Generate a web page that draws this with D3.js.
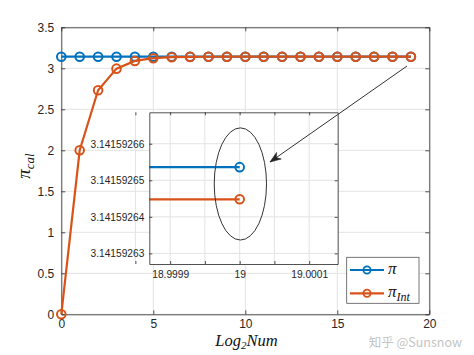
<!DOCTYPE html>
<html><head><meta charset="utf-8">
<script src="https://cdn.jsdelivr.net/npm/d3@7"></script>
<style>body{margin:0;background:#fff}svg{display:block}</style>
</head><body>
<svg id="c" width="474" height="355"></svg>
<script>
// ---- data ----
const xs = [0,1,2,3,4,5,6,7,8,9,10,11,12,13,14,15,16,17,18,19];
const piVals = xs.map(() => 3.14159265359);
const piInt = [0, 2, 2.7320508, 2.9957090, 3.0898195, 3.1232527, 3.1351027, 3.1392967,
  3.1407807, 3.1413056, 3.1414912, 3.1415568, 3.1415800, 3.1415882, 3.1415911,
  3.14159209, 3.14159245, 3.14159258, 3.141592629, 3.1415926448];
const xTicks = [0,5,10,15,20];
const yTicks = [0,0.5,1,1.5,2,2.5,3,3.5];
const insetXTicks = [18.9999, 19, 19.0001];
const insetXGrid = [18.99985, 18.9999, 18.99995, 19, 19.00005, 19.0001];
const insetYTicks = [3.14159263, 3.14159264, 3.14159265, 3.14159266];
const insetYLabels = ["3.14159263","3.14159264","3.14159265","3.14159266"];
const seriesNames = ["π", "π"];
const colors = ["#0072BD", "#D95319"];

const svg = d3.select("#c");
const x = d3.scaleLinear().domain([0,20]).range([61.3,429.3]);
const y = d3.scaleLinear().domain([0,3.5]).range([314.3,27.3]);
const axisCol = "#262626";
const gridCol = "#e3e3e3";
const tickFont = "'Liberation Sans', Arial, sans-serif";

// main grid
const g = svg.append("g");
g.selectAll(".gx").data(xTicks).join("line").attr("x1",d=>x(d)).attr("x2",d=>x(d))
  .attr("y1",y(0)).attr("y2",y(3.5)).attr("stroke",gridCol).attr("stroke-width",1);
g.selectAll(".gy").data(yTicks).join("line").attr("y1",d=>y(d)).attr("y2",d=>y(d))
  .attr("x1",x(0)).attr("x2",x(20)).attr("stroke",gridCol).attr("stroke-width",1);

// axes
const xa = g.append("g").attr("transform",`translate(0,${y(0)})`)
  .call(d3.axisBottom(x).tickValues(xTicks).tickSizeInner(-4).tickSizeOuter(0).tickPadding(5).tickFormat(d3.format("d")));
const xaT = g.append("g").attr("transform",`translate(0,${y(3.5)})`)
  .call(d3.axisTop(x).tickValues(xTicks).tickSizeInner(-4).tickSizeOuter(0).tickFormat(""));
const ya = g.append("g").attr("transform",`translate(${x(0)},0)`)
  .call(d3.axisLeft(y).tickValues(yTicks).tickSizeInner(-4).tickSizeOuter(0).tickPadding(7).tickFormat(d=>String(d)));
const yaR = g.append("g").attr("transform",`translate(${x(20)},0)`)
  .call(d3.axisRight(y).tickValues(yTicks).tickSizeInner(-4).tickSizeOuter(0).tickFormat(""));
[xa,xaT,ya,yaR].forEach(a=>{
  a.select(".domain").attr("stroke",axisCol).attr("stroke-width",0.8);
  a.selectAll(".tick line").attr("stroke",axisCol).attr("stroke-width",0.8);
  a.selectAll("text").attr("fill",axisCol).attr("font-family",tickFont).attr("font-size","12px");
});

// series
const series = [piVals, piInt];
const line = d3.line().x((d,i)=>x(xs[i])).y(d=>y(d));
series.forEach((s,k)=>{
  g.append("path").datum(s).attr("d",line).attr("fill","none")
    .attr("stroke",colors[k]).attr("stroke-width",2.2);
  g.selectAll(null).data(s).join("circle").attr("cx",(d,i)=>x(xs[i])).attr("cy",d=>y(d))
    .attr("r",4.3).attr("fill","none").attr("stroke",colors[k]).attr("stroke-width",2);
});

// inset
const xi = d3.scaleLinear().domain([18.99987,19.000141]).range([149.3,337.7]);
const yi = d3.scaleLinear().domain([3.1415926271,3.1415926686]).range([264,112.3]);
const ig = svg.append("g");
ig.append("rect").attr("x",149.3).attr("y",112.3).attr("width",337.7-149.3).attr("height",264-112.3)
  .attr("fill","#fff");
ig.selectAll(".igx").data(insetXGrid).join("line").attr("x1",d=>xi(d)).attr("x2",d=>xi(d))
  .attr("y1",112.3).attr("y2",264).attr("stroke",gridCol);
ig.selectAll(".igy").data(insetYTicks).join("line").attr("y1",d=>yi(d)).attr("y2",d=>yi(d))
  .attr("x1",149.3).attr("x2",337.7).attr("stroke",gridCol);
ig.append("clipPath").attr("id","clipI").append("rect")
  .attr("x",149.3).attr("y",112.3).attr("width",337.7-149.3).attr("height",264-112.3);
const lineI = d3.line().x((d,i)=>xi(xs[i])).y(d=>yi(d));
const cl = ig.append("g").attr("clip-path","url(#clipI)");
series.forEach((s,k)=>{
  cl.append("path").datum(s).attr("d",lineI).attr("fill","none")
    .attr("stroke",colors[k]).attr("stroke-width",2.2);
  cl.selectAll(null).data(s).join("circle").attr("cx",(d,i)=>xi(xs[i])).attr("cy",d=>yi(d))
    .attr("r",4.3).attr("fill","none").attr("stroke",colors[k]).attr("stroke-width",2);
});
const ixa = ig.append("g").attr("transform","translate(0,264)")
  .call(d3.axisBottom(xi).tickValues(insetXGrid).tickSizeInner(-3).tickSizeOuter(0).tickPadding(7)
    .tickFormat(d=>insetXTicks.some(t=>Math.abs(t-d)<1e-9) ? (Math.abs(d-19)<1e-9?"19":d3.format(".4f")(d)) : ""));
const ixaT = ig.append("g").attr("transform","translate(0,112.3)")
  .call(d3.axisTop(xi).tickValues(insetXGrid).tickSizeInner(-3).tickSizeOuter(0).tickFormat(""));
const iya = ig.append("g").attr("transform","translate(149.3,0)")
  .call(d3.axisLeft(yi).tickValues(insetYTicks).tickSizeInner(-3).tickSizeOuter(0).tickPadding(5)
    .tickFormat((d,i)=>insetYLabels[i]));
const iyaR = ig.append("g").attr("transform","translate(337.7,0)")
  .call(d3.axisRight(yi).tickValues(insetYTicks).tickSizeInner(-3).tickSizeOuter(0).tickFormat(""));
[ixa,ixaT,iya,iyaR].forEach(a=>{
  a.select(".domain").attr("stroke",axisCol).attr("stroke-width",0.8);
  a.selectAll(".tick line").attr("stroke",axisCol).attr("stroke-width",0.8);
  a.selectAll("text").attr("fill",axisCol).attr("font-family",tickFont).attr("font-size","10.2px");
});

// ellipse annotation (inset data coords)
const ecx = 19.0000010, ecy = 3.141592649, erx = 0.0000376, ery = 1.534e-8;
ig.append("ellipse").attr("cx",xi(ecx)).attr("cy",yi(ecy))
  .attr("rx",xi(ecx+erx)-xi(ecx)).attr("ry",yi(ecy)-yi(ecy+ery))
  .attr("fill","none").attr("stroke","#333").attr("stroke-width",1);

// arrow (main data coords)
const arrow = {x1:18.79, y1:3.028, x2:11.34, y2:1.857};
const ax1=x(arrow.x1), ay1=y(arrow.y1), ax2=x(arrow.x2), ay2=y(arrow.y2);
svg.append("line").attr("x1",ax1).attr("y1",ay1).attr("x2",ax2).attr("y2",ay2)
  .attr("stroke","#333").attr("stroke-width",1);
const ang = Math.atan2(ay2-ay1, ax2-ax1);
const hl = 11, hw = 4;
const bx = ax2 - hl*Math.cos(ang), by = ay2 - hl*Math.sin(ang);
const mx = ax2 - hl*0.7*Math.cos(ang), my = ay2 - hl*0.7*Math.sin(ang);
const px = -Math.sin(ang), py = Math.cos(ang);
svg.append("path").attr("d",`M${ax2},${ay2}L${bx+px*hw},${by+py*hw}L${mx},${my}L${bx-px*hw},${by-py*hw}Z`)
  .attr("fill","#222").attr("stroke","#222").attr("stroke-width",0.6);

// axis labels
const serif = "'Liberation Serif','Times New Roman',serif";
svg.append("text").attr("x",246.5).attr("y",346).attr("text-anchor","middle")
  .attr("font-family",serif).attr("font-style","italic").attr("font-size","16.5px").attr("fill","#111")
  .call(t=>{t.append("tspan").text("Log");
    t.append("tspan").attr("font-size","11px").attr("dy",3).text("2");
    t.append("tspan").attr("dy",-3).text("Num");});
svg.append("text").attr("transform","translate(30,166) rotate(-90)").attr("text-anchor","middle")
  .attr("font-family",serif).attr("font-style","italic").attr("font-size","19px").attr("fill","#111")
  .call(t=>{t.append("tspan").text("π");
    t.append("tspan").attr("font-size","13px").attr("dy",4).text("cal");});

// legend
const lg = svg.append("g");
lg.append("rect").attr("x",346.7).attr("y",257.3).attr("width",72.3).attr("height",46)
  .attr("fill","#fff").attr("stroke","#555").attr("stroke-width",0.8);
const legY = [270, 293.3];
const subs = ["", "Int"];
legY.forEach((ly,k)=>{
  lg.append("line").attr("x1",350).attr("x2",384).attr("y1",ly).attr("y2",ly)
    .attr("stroke",colors[k]).attr("stroke-width",2.2);
  lg.append("circle").attr("cx",367).attr("cy",ly).attr("r",3.6).attr("fill","none")
    .attr("stroke",colors[k]).attr("stroke-width",1.8);
  const t = lg.append("text").attr("x",388).attr("y",ly+4).attr("font-family",serif)
    .attr("font-style","italic").attr("font-size","17px").attr("fill","#111");
  t.append("tspan").text(seriesNames[k]);
  if (subs[k]) t.append("tspan").attr("font-size","12px").attr("dy",4).text(subs[k]);
});

// watermark
svg.append("text").attr("x",462).attr("y",347).attr("text-anchor","end")
  .attr("font-family","'Noto Sans CJK SC','Noto Sans',sans-serif").attr("font-size","12.5px")
  .attr("fill","#c4c4c4").text("知乎 @Sunsnow");
</script>
</body></html>
